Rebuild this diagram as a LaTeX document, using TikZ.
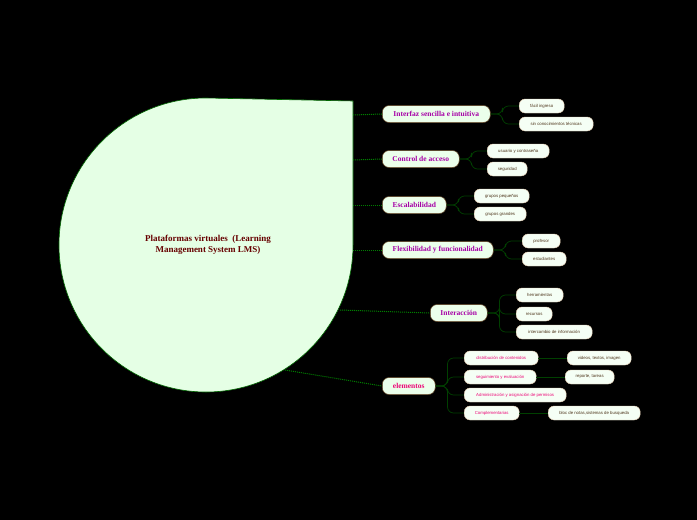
\documentclass[tikz,border=0pt]{standalone}
\usepackage{fontspec}
\setmainfont{Liberation Serif}
\newfontfamily\smallsans{Liberation Sans}
\begin{document}
\begin{tikzpicture}[x=1pt,y=-1pt,
  box/.style={draw=brown!50!black,line width=0.5pt,fill=green!8!white,rounded corners=7pt,inner sep=0pt,minimum height=17pt,anchor=west,font=\bfseries\fontsize{7.5}{8}\selectfont,text=violet!70!magenta},
  sub/.style={draw=brown!40!white,line width=0.4pt,fill=green!4!white,rounded corners=6pt,inner sep=0pt,minimum height=14pt,anchor=west,font=\smallsans\fontsize{4.3}{5}\selectfont,text=brown!40!black},
  pink/.style={text=magenta!80!red},
  dot/.style={green!50!black,densely dotted,line width=1pt},
  con/.style={green!25!black,line width=0.7pt,rounded corners=6pt}]
\fill[black] (0,0) rectangle (697,520);
\path[fill=green!10!white,draw=green!40!black,line width=0.6pt] (353,101) -- (353,245) arc(0:270:147) -- cycle;
\node[align=center,text=red!40!black,font=\bfseries\fontsize{9}{11}\selectfont] (root) at (208,245) {Plataformas virtuales\ \ (Learning\\Management System LMS)};
\coordinate (r1) at (353,115);\coordinate (r2) at (353,160);\coordinate (r3) at (353,205);
\coordinate (r4) at (353,250);\coordinate (r5) at (340,310);\coordinate (r6) at (285,370);
\node[box,minimum width=108pt] (a) at (382,114) {Interfaz sencilla e intuitiva};
\node[box,minimum width=77pt] (b) at (382,159) {Control de acceso};
\node[box,minimum width=64pt] (c) at (382,205) {Escalabilidad};
\node[box,minimum width=111pt] (d) at (382,250) {Flexibilidad y funcionalidad};
\node[box,minimum width=57pt] (e) at (430,313) {Interacción};
\node[box,minimum width=53pt,text=magenta!80!red] (f) at (382,386) {elementos};
\foreach \r/\n in {r1/a,r2/b,r3/c,r4/d,r5/e,r6/f} \draw[dot] (\r) -- (\n.west);
\node[sub,minimum width=45pt] (a1) at (519,106) {fácil ingreso};
\node[sub,minimum width=74pt] (a2) at (519,124) {sin conocimientos técnicas};
\node[sub,minimum width=62pt] (b1) at (487,151) {usuario y contraseña};
\node[sub,minimum width=40pt] (b2) at (487,169) {seguridad};
\node[sub,minimum width=55pt] (c1) at (474,196) {grupos pequeños};
\node[sub,minimum width=52pt] (c2) at (474,214) {grupos grandes};
\node[sub,minimum width=38pt] (d1) at (522,241) {profesor};
\node[sub,minimum width=44pt] (d2) at (522,259) {estudiantes};
\node[sub,minimum width=47pt] (e1) at (516,295) {herramientas};
\node[sub,minimum width=36pt] (e2) at (516,314) {recursos};
\node[sub,minimum width=76pt] (e3) at (516,332) {intercambio de información};
\node[sub,pink,minimum width=74pt] (f1) at (464,358) {distribución de contenidos};
\node[sub,pink,minimum width=72pt] (f2) at (464,377) {seguimiento y evaluación};
\node[sub,pink,minimum width=102pt] (f3) at (464,395) {Administración y asignación de permisos};
\node[sub,pink,minimum width=55pt] (f4) at (464,413) {Complementarias};
\node[sub,minimum width=64pt] (g1) at (567,358) {videos, textos, imagen};
\node[sub,minimum width=49pt] (g2) at (565,377) {reporte, tareas};
\node[sub,minimum width=92pt] (g3) at (548,413) {bloc de notas,sistemas de busqueda};
\foreach \p/\c in {a/a1,a/a2,b/b1,b/b2,c/c1,c/c2,d/d1,d/d2,e/e1,e/e2,e/e3,f/f1,f/f2,f/f3,f/f4}
  \draw[con] (\p.east) -- ++(12,0) |- (\c.west);
\foreach \p/\c in {f1/g1,f2/g2,f4/g3} \draw[con] (\p.east) -- (\c.west);
\end{tikzpicture}
\end{document}
